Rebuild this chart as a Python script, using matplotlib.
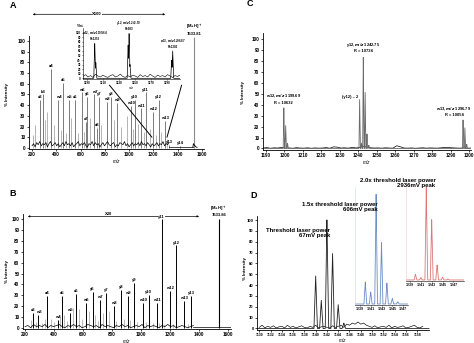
import numpy as np
import matplotlib.pyplot as plt
from matplotlib.patches import ConnectionPatch

plt.rcParams['font.family'] = ['Liberation Sans', 'DejaVu Sans']
plt.rcParams['font.weight'] = 'bold'
plt.rcParams['font.size'] = 3.3
plt.rcParams['axes.linewidth'] = 0.6
for k in ('xtick', 'ytick'):
    plt.rcParams[k + '.major.size'] = 1.5
    plt.rcParams[k + '.major.width'] = 0.5
    plt.rcParams[k + '.major.pad'] = 1.0

# ---- panel A : full MS/MS spectrum, x100 zoom region ----
a_ions = ['a3', 'b3', 'a4', 'w4', 'a5', 'w5', 'a6', 'w6', 'a7', 'y6', 'w7', 'a8', 'y7',
          'w8', 'y8', 'w9', 'w10', 'y10', 'w11', 'y11', 'w12', 'y12', 'w13', 'y13', 'y14']
a_mz = [266, 293, 354, 417, 453, 505, 554, 609, 645, 656, 713, 733, 754,
        815, 853, 897, 1015, 1046, 1098, 1136, 1199.7, 1242.8, 1296.8, 1331, 1419]
a_int = [45, 50, 74, 45, 61, 45, 45, 52, 24, 48, 50, 19, 48,
         43, 48, 42, 39, 45, 37, 52, 34, 45, 25, 3, 2]
a_minor_mz = [208, 227, 304, 326, 381, 441, 478, 520, 579, 628, 675, 770, 875,
              930, 980, 1030, 1075, 1120, 1170, 1220, 1265, 1310]
a_minor_int = [12, 21, 26, 34, 21, 17, 14, 28, 14, 15, 28, 21, 26,
               20, 30, 18, 22, 15, 18, 12, 15, 8]
a_noise = [2, 4, 1, 5, 3, 6, 2, 4, 3, 5, 1, 4, 6, 2, 3, 5, 2, 4, 1, 3, 5, 2, 6, 3, 4, 2,
           5, 1, 3, 4, 6, 2, 4, 3, 5, 2, 1, 4, 3, 6, 2, 5, 3, 4, 1, 3, 5, 2, 4, 6, 3, 2,
           4, 5, 1, 3, 2, 5, 4, 3, 6, 2, 4, 1, 3, 5, 2, 4, 3, 5, 2, 6, 3, 4, 2, 5, 3, 1,
           4, 2, 3, 5, 2, 4, 3, 6, 2, 4, 3, 5]
a_parent = (1533.81, 104)

# inset of panel A (low resolution region 1190-1300)
ins_mz = [1199.64, 1201.0, 1241.3, 1242.5, 1243.6, 1295.6, 1296.87]
ins_int = [78, 35, 75, 100, 30, 40, 60]
ins_noise = [4, 8, 3, 6, 2, 9, 5, 3, 7, 4, 2, 6, 8, 3, 5, 9, 4, 2, 6, 3, 7, 5, 2, 8,
             4, 6, 3, 9, 5, 2, 7, 4, 6, 3, 8, 5, 2, 6, 4, 7]
ins_labelled = [0, 3, 6]
ins_texts = ['w12, $m/z$ 1199.64\nR=1252', 'y12, $m/z$ 1242.50\nR=983',
             'w13, $m/z$ 1296.87\nR=1303']

# ---- panel B : spectrum, x30 zoom region ----
b_ions = ['a3', 'w3', 'a4', 'w4', 'a5', 'w5', 'a6', 'w6', 'y6', 'w7', 'y7', 'w8', 'y8',
          'w9', 'y9', 'w10', 'y10', 'w11', 'y11', 'w12', 'y12', 'w13', 'y13']
b_mz = [257, 292, 354, 424, 458, 511, 553, 620, 666, 717, 760, 814, 860,
        908, 950, 1012, 1053, 1107, 1141, 1199.7, 1242.8, 1296.8, 1345]
b_int = [14, 12, 29, 7, 29, 14, 31, 23, 33, 26, 32, 20, 35,
         29, 41, 23, 30, 23, 100, 34, 76, 25, 29]
b_minor_mz = [240, 275, 320, 340, 380, 400, 440, 470, 490, 530, 570, 590, 640, 680,
              700, 740, 780, 830, 880, 925, 970, 1030, 1080, 1125, 1160, 1220, 1320]
b_minor_int = [7, 5, 4, 8, 8, 5, 10, 12, 6, 18, 17, 8, 15, 12,
               6, 14, 15, 6, 8, 7, 5, 5, 4, 4, 3, 3, 3]
b_noise = [1, 2, 0, 3, 1, 2, 1, 3, 0, 2, 1, 2, 3, 1, 0, 2, 1, 3, 1, 2, 0, 1, 3, 2, 1,
           2, 0, 3, 1, 2, 1, 0, 2, 1, 3, 1, 2, 0, 1, 2, 1, 3, 0, 2, 1, 2, 1, 0, 2, 1,
           3, 1, 2, 0, 1, 2, 1, 0, 1, 2]
b_parent = (1533.86, 100)

# ---- panel C : high resolution region 1190-1300 ----
c_mz = [1199.69, 1200.69, 1201.69, 1240.75, 1241.75, 1242.75, 1243.75, 1244.75,
        1245.75, 1296.79, 1297.79, 1298.79]
c_int = [39, 21, 5, 45, 5, 86, 52, 14, 3, 27, 19, 4]
c_noise = [0.3, 0.8, 0.2, 0.6, 0.4, 1.0, 0.3, 0.5, 0.2, 0.7, 0.4, 0.3, 0.6, 0.2, 0.5,
           0.3, 0.4, 0.8, 0.2, 1.5, 1.2, 0.4, 0.6, 0.3, 1.0, 0.5, 0.8, 2.0, 1.2, 0.6,
           0.4, 0.5, 0.3, 0.6, 0.4, 0.3, 2.5, 1.5, 0.4, 0.3, 0.5, 0.2, 0.4, 0.6, 0.3,
           0.5, 0.4, 0.3, 0.6, 1.0, 0.8, 0.6, 0.4, 0.3, 0.5, 0.2, 0.4]

# ---- panel D : laser power series ----
d_mz = [1140, 1141, 1142, 1143, 1144, 1145]
d_int = [49, 26, 101, 70, 22, 5]
d_noise = [1, 3, 0.5, 2, 1, 2.5, 0.5, 1.5, 2, 0.5, 3, 1, 2, 0.5, 1.5, 2.5, 1, 0.5,
           2, 1, 3, 0.5, 1.5, 2, 1, 0.5, 2.5, 1, 2, 3, 1, 4, 3, 5, 4, 6, 4, 5, 3,
           2, 1, 2.5, 0.5, 1.5, 2, 1, 3, 0.5, 2, 1, 1.5, 2.5, 0.5, 1, 2, 3, 1, 0.5, 2]
blue_mz = [1240, 1241, 1242, 1243, 1244, 1245, 1246]
blue_int = [20, 11, 100, 56, 19, 5, 2]
red_mz = [1240, 1241, 1242, 1243, 1244, 1245, 1246]
red_int = [6, 2.5, 100, 65, 16, 3, 1]
d_texts = ['Threshold laser power\n67mV peak',
           '1.5x threshold laser power\n606mV peak',
           '2.0x threshold laser power\n2936mV peak']

W, H = 474, 343
fig = plt.figure(figsize=(W / 100, H / 100), dpi=100)


def px_axes(left, top, right, bottom):
    return fig.add_axes([left / W, 1 - bottom / H, (right - left) / W, (bottom - top) / H])


def open_axes(ax):
    ax.spines['top'].set_visible(False)
    ax.spines['right'].set_visible(False)
    ax.patch.set_alpha(0)


def tri_profile(x, centers, heights, hw):
    y = np.zeros_like(x)
    for c, h in zip(centers, heights):
        y = np.maximum(y, h * np.clip(1 - np.abs(x - c) / hw, 0, None))
    return y


def label_peaks(ax, mz, inten, names, size=3.0, box=()):
    for m, h, n in zip(mz, inten, names):
        t = ax.annotate(n, (m, h), xytext=(0, 0.6), textcoords='offset points',
                        ha='center', va='bottom', fontsize=size)
        if n in box:
            t.set_bbox(dict(facecolor='white', edgecolor='none', pad=0.3))


def fig_text(x, y, s, **kw):
    return fig.text(x / W, 1 - y / H, s, **kw)


# ======== A ========
ax = px_axes(29, 36, 204, 149)
open_axes(ax)
ax.set_xlim(175, 1617)
ax.set_ylim(-1, 104.7)
ax.vlines(a_minor_mz, 0, a_minor_int, color='#a8a8a8', lw=0.6)
ax.vlines(a_mz, 0, a_int, color='#7a7a7a', lw=0.7)
ax.vlines(a_parent[0], 0, a_parent[1], color='#8a8a8a', lw=0.8, clip_on=False)
xn = np.linspace(200, 1330, len(a_noise))
ax.plot(xn, a_noise, color='black', lw=0.5)
ax.plot([1330, 1525], [0.5, 0.5], color='black', lw=0.5)
ax.plot([1525, 1530, 1536, 1542, 1550, 1560], [0.5, 4, 3, 2, 1, 0.5], color='black', lw=0.6)
label_peaks(ax, a_mz, a_int, a_ions)
ax.annotate('[M+H]$^+$\n1533.81', (a_parent[0], a_parent[1]), xytext=(0, 0.6),
            textcoords='offset points', ha='center', va='bottom', fontsize=3,
            annotation_clip=False)
ax.annotate('', xy=(183, 125), xytext=(1320, 125), xycoords='data',
            arrowprops=dict(arrowstyle='<|-|>', lw=0.5, mutation_scale=2.5, color='black'),
            annotation_clip=False)
ax.text(735, 125, 'X100', ha='center', va='center', fontsize=3,
        bbox=dict(facecolor='white', edgecolor='none', pad=0.4), clip_on=False)
ax.set_xticks(range(200, 1601, 200))
ax.set_yticks(range(0, 101, 10))
ax.set_xlabel('m/z', style='italic', fontsize=3.3, labelpad=1)

ai = px_axes(83, 28, 180, 79)
open_axes(ai)
ai.set_xlim(1185, 1306)
ai.set_ylim(-1.5, 110)
xi = np.linspace(1185, 1306, len(ins_noise))
ai.plot(xi, ins_noise, color='black', lw=0.4)
xg = np.linspace(1185, 1306, 1500)
ai.plot(xg, tri_profile(xg, ins_mz, ins_int, 1.2), color='black', lw=0.5)
ai.set_xticks(range(1190, 1300, 20))
ai.set_yticks(range(0, 101, 10))
ai.tick_params(labelsize=2.2, length=1, pad=0.6, width=0.4)
for s in ai.spines.values():
    s.set_linewidth(0.4)
ai.set_xlabel('m/z', style='italic', fontsize=2.2, labelpad=0.5)
ai.text(-0.02, 1.0, '%Int.', transform=ai.transAxes, fontsize=2.2, ha='center', va='bottom')
for i, s in zip(ins_labelled, ins_texts):
    ai.annotate(s, (ins_mz[i], ins_int[i]), xytext=(0, 1), textcoords='offset points',
                ha='center', va='bottom', fontsize=2.1, linespacing=1.0,
                annotation_clip=False)
for xa, xb in ((1218, 1188), (1308, 1312)):
    con = ConnectionPatch(xyA=(xa, -15), coordsA=ai.transData, xyB=(xb, 10),
                          coordsB=ax.transData, color='black', lw=0.7)
    fig.add_artist(con)

# ======== B ========
bx = px_axes(23, 214, 231, 329)
open_axes(bx)
bx.set_xlim(186, 1619)
bx.set_ylim(-1.2, 105)
bx.vlines(b_minor_mz, 0, b_minor_int, color='#b0b0b0', lw=0.6)
bx.vlines(b_mz, 0, b_int, color='black', lw=0.7)
bx.vlines(b_parent[0], 0, b_parent[1], color='black', lw=0.8)
xn = np.linspace(200, 1360, len(b_noise))
bx.plot(xn, b_noise, color='black', lw=0.5)
bx.plot([1360, 1620], [0.3, 0.3], color='black', lw=0.5)
bx.annotate('', xy=(200, 102.8), xytext=(1418, 102.8),
            arrowprops=dict(arrowstyle='<|-|>', lw=0.5, mutation_scale=2.5, color='black'),
            annotation_clip=False)
bx.text(775, 103.5, 'X30', ha='center', va='bottom', fontsize=3, clip_on=False)
label_peaks(bx, b_mz, b_int, b_ions, box=('y11',))
bx.annotate('[M+H]$^+$\n1533.86', (b_parent[0], b_parent[1]), xytext=(0, 1.5),
            textcoords='offset points', ha='center', va='bottom', fontsize=3,
            annotation_clip=False)
bx.set_xticks(range(200, 1601, 200))
bx.set_yticks(range(0, 101, 10))
bx.set_xlabel('m/z', style='italic', fontsize=3.3, labelpad=1)

# ======== C ========
cx = px_axes(263, 33, 471, 150)
open_axes(cx)
cx.set_xlim(1188.4, 1301.1)
cx.set_ylim(-1.4, 105.8)
xn = np.linspace(1188.4, 1301.1, len(c_noise))
cx.plot(xn, c_noise, color='black', lw=0.5)
xg = np.linspace(1188.4, 1301.1, 3000)
cx.plot(xg, tri_profile(xg, c_mz, c_int, 0.35), color='#6a6a6a', lw=0.6)
cx.annotate('w12, $m/z$ 1199.69\nR = 10632', (c_mz[0], c_int[0]), xytext=(0, 1),
            textcoords='offset points', ha='center', va='bottom', fontsize=2.9,
            linespacing=1.1)
cx.annotate('y12, $m/z$ 1242.75\nR = 10734', (c_mz[5], c_int[5]), xytext=(0, 1),
            textcoords='offset points', ha='center', va='bottom', fontsize=2.9,
            linespacing=1.1)
cx.annotate('(y12) \u2013 2', (c_mz[3], c_int[3]), xytext=(-1, 0),
            textcoords='offset points', ha='right', va='bottom', fontsize=2.9)
cx.annotate('w13, $m/z$ 1296.79\nR = 10054', (c_mz[9], c_int[9]), xytext=(-6.5, 1.5),
            textcoords='offset points', ha='center', va='bottom', fontsize=2.9,
            linespacing=1.1)
cx.set_xticks(range(1190, 1301, 10))
cx.set_yticks(range(0, 101, 10))
cx.set_xlabel('m/z', style='italic', fontsize=3.3, labelpad=1)

# ======== D ========
dx = px_axes(257, 216, 429, 330)
open_axes(dx)
dx.set_xlim(1129.6, 1160.1)
dx.set_ylim(-1.4, 103.7)
xn = np.linspace(1130, 1159, len(d_noise))
dx.plot(xn, d_noise, color='black', lw=0.45)
xg = np.linspace(1129.6, 1160.1, 3000)
dx.plot(xg, tri_profile(xg, d_mz, d_int, 0.3), color='#222222', lw=0.6, clip_on=False)
dx.set_xticks(range(1130, 1159, 2))
dx.set_yticks(range(0, 101, 10))
dx.tick_params(axis='x', labelsize=2.5)
dx.tick_params(axis='y', labelsize=3.0, pad=0.8)
dx.set_xlabel('m/z', style='italic', fontsize=3.3, labelpad=0.5)

for (l, t, r, b, xl, yl, mz, inten, col, spine) in (
        (355, 187, 408, 305, (1238.1, 1247.9), (-0.9, 105.4), blue_mz, blue_int,
         '#6b8cc7', '#c9d6ee'),
        (406, 180, 464, 281, (1238.26, 1248.96), (-1.1, 107.5), red_mz, red_int,
         '#e07575', '#f1c8c8')):
    ix = px_axes(l, t, r, b)
    ix.patch.set_alpha(0)
    for s in ('top', 'right'):
        ix.spines[s].set_visible(False)
    ix.spines['left'].set_color(spine)
    ix.spines['left'].set_linewidth(0.4)
    ix.spines['bottom'].set_linewidth(0.4)
    ix.set_xlim(*xl)
    ix.set_ylim(*yl)
    xg = np.linspace(xl[0], xl[1], 1500)
    ix.plot(xg, tri_profile(xg, mz, inten, 0.25), color=col, lw=0.6)
    ix.set_xticks(range(1239, 1248, 2))
    ix.set_yticks([])
    ix.tick_params(labelsize=2.5, length=1, width=0.4, pad=0.6)

# ---- figure level labels ----
for x, y, s in ((13, 5, 'A'), (13, 194, 'B'), (250, 4, 'C'), (254, 195, 'D')):
    fig_text(x, y, s, fontsize=6.5, ha='center', va='center')
for x, y in ((7, 95), (7, 272), (243, 93), (245, 269)):
    fig_text(x, y, '% Intensity', fontsize=3.2, rotation=90, ha='center', va='center')
for (x, y), s in zip(((330, 233), (377.5, 207), (435.5, 183)), d_texts):
    fig_text(x, y, s, fontsize=4.3, ha='right', va='center', linespacing=1.15)

fig.savefig('out.png', dpi=100)
